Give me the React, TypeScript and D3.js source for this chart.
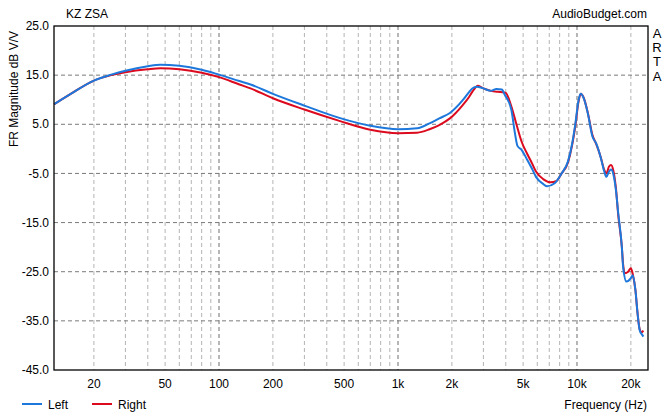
import React from "react";
import * as d3 from "d3";

const freqLeft = [12, 15, 20, 25, 30, 40, 47, 60, 80, 100, 130, 150, 200, 300, 470, 700, 1000, 1280, 1500, 1700, 1950, 2300, 2500, 2600, 2750, 3000, 3300, 3550, 3800, 3950, 4300, 4500, 4650, 4900, 5250, 5600, 5900, 6500, 6800, 7500, 8200, 8900, 9400, 9800, 10200, 10500, 10900, 11500, 12200, 12800, 13600, 14200, 14600, 15100, 15500, 16000, 16500, 17000, 17800, 18100, 18900, 20000, 20500, 21200, 21800, 22400, 23000, 23500];
const dbLeft = [9.1, 11.3, 13.9, 15.1, 15.9, 16.8, 17.1, 16.9, 16.1, 15.1, 13.8, 13.1, 11.2, 8.8, 6.3, 4.7, 4.0, 4.2, 5.2, 6.2, 7.3, 9.9, 11.6, 12.3, 12.65, 12.3, 11.8, 12.2, 12.1, 11.0, 7.9, 3.2, 0.6, -0.2, -2.1, -4.0, -5.7, -7.2, -7.6, -7.0, -5.0, -2.6, 1.1, 5.2, 9.9, 11.2, 10.3, 7.2, 2.5, 1.1, -1.9, -4.6, -5.7, -4.6, -4.2, -5.3, -8.4, -13.1, -19.9, -24.0, -27.0, -26.3, -25.7, -28.7, -33.5, -36.9, -37.7, -38.2];

const freqRight = [12, 15, 20, 25, 30, 40, 47, 60, 80, 100, 130, 150, 200, 300, 470, 700, 1000, 1280, 1500, 1700, 1950, 2300, 2500, 2600, 2800, 3000, 3300, 3600, 3900, 4000, 4300, 4600, 4900, 5250, 5600, 5900, 6500, 7100, 7700, 8200, 8900, 9400, 9800, 10200, 10500, 10900, 11500, 12200, 12800, 13600, 14200, 14600, 15100, 15500, 16000, 16500, 17000, 17800, 18100, 18500, 19300, 20000, 20500, 21200, 21800, 22400, 23000, 23500];
const dbRight = [9.1, 11.3, 13.9, 15.0, 15.6, 16.2, 16.4, 16.2, 15.5, 14.6, 13.1, 12.3, 10.3, 8.0, 5.7, 3.9, 3.2, 3.3, 4.0, 4.85, 6.2, 8.9, 10.6, 11.6, 12.85, 12.3, 11.8, 11.6, 11.5, 11.4, 8.6, 4.85, 1.5, -0.9, -2.9, -4.6, -6.2, -6.8, -6.5, -5.0, -2.8, 0.8, 4.8, 9.6, 11.2, 10.4, 7.3, 2.8, 1.0, -1.8, -4.3, -5.0, -3.6, -3.3, -4.6, -8.0, -13.5, -19.9, -23.5, -25.3, -25.0, -24.3, -25.5, -28.7, -33.5, -36.7, -37.3, -37.0];

const yTicks = [25, 15, 5, -5, -15, -25, -35, -45];
const xTickValues = [20, 50, 100, 200, 500, 1000, 2000, 5000, 10000, 20000];
const xTickLabels = ["20", "50", "100", "200", "500", "1k", "2k", "5k", "10k", "20k"];

const title = "KZ ZSA";
const site = "AudioBudget.com";
const yTitle = "FR Magnitude dB V/V";
const xTitle = "Frequency (Hz)";
const seriesNames = ["Left", "Right"];

const W = 671, H = 420;
const L = 54, R = 648, T = 26, B = 370;
const BLUE = "#1E78DC";
const RED = "#DC0A1E";
const FONT = "'Liberation Sans', Arial, sans-serif";

export default function App() {
  const x = d3.scaleLog().domain([11.97, 24930]).range([L, R]);
  const y = d3.scaleLinear().domain([-45, 25]).range([B, T]);

  const minor: number[] = [];
  const major: number[] = [];
  for (let dec = 10; dec <= 10000; dec *= 10) {
    for (let m = 1; m <= 9; m++) {
      const f = dec * m;
      if (f < 11.97 || f > 24930) continue;
      if (m === 1) major.push(f);
      else minor.push(f);
    }
  }

  const line = d3
    .line<[number, number]>()
    .x((d) => x(d[0]))
    .y((d) => y(d[1]))
    .curve(d3.curveMonotoneX);

  const leftData: [number, number][] = freqLeft.map((f, i) => [f, dbLeft[i]]);
  const rightData: [number, number][] = freqRight.map((f, i) => [f, dbRight[i]]);

  return (
    <svg width={W} height={H} style={{ position: "absolute", left: 0, top: 0, background: "#fff" }} fontFamily={FONT}>
      <rect x={0} y={0} width={W} height={H} fill="#fff" />
      {minor.map((f) => (
        <line key={"mi" + f} x1={x(f)} x2={x(f)} y1={T} y2={B} stroke="#b4b4b4" strokeWidth={1} strokeDasharray="4,3" />
      ))}
      {major.map((f) => (
        <line key={"ma" + f} x1={x(f)} x2={x(f)} y1={T} y2={B} stroke="#6e6e6e" strokeWidth={1} strokeDasharray="4,3" />
      ))}
      {yTicks.slice(1, -1).map((v) => (
        <line key={"h" + v} x1={L} x2={R} y1={y(v)} y2={y(v)} stroke="#7a7a7a" strokeWidth={1} strokeDasharray="4,3" />
      ))}
      <path d={line(rightData) || ""} fill="none" stroke={RED} strokeWidth={2} />
      <path d={line(leftData) || ""} fill="none" stroke={BLUE} strokeWidth={2} />
      <rect x={L} y={T} width={R - L} height={B - T} fill="none" stroke="#000" strokeWidth={1.3} />
      {yTicks.map((v) => (
        <text key={"yt" + v} x={49} y={y(v)} dy="0.35em" textAnchor="end" fontSize={12} fill="#000">
          {v.toFixed(1)}
        </text>
      ))}
      {xTickValues.map((f, i) => (
        <text key={"xt" + f} x={x(f)} y={388} textAnchor="middle" fontSize={12} fill="#000">
          {xTickLabels[i]}
        </text>
      ))}
      <text x={66} y={18} fontSize={12} fill="#000">{title}</text>
      <text x={647} y={18} textAnchor="end" fontSize={12} fill="#000">{site}</text>
      {"ARTA".split("").map((c, i) => (
        <text key={"a" + i} x={657} y={38 + i * 14.2} textAnchor="middle" fontSize={13} fill="#000">{c}</text>
      ))}
      <text transform={`translate(18,89) rotate(-90)`} textAnchor="middle" fontSize={12} fill="#000">{yTitle}</text>
      <line x1={22} x2={42} y1={404} y2={404} stroke={BLUE} strokeWidth={2} />
      <text x={48} y={408.5} fontSize={12} fill="#000">{seriesNames[0]}</text>
      <line x1={92} x2={112} y1={404} y2={404} stroke={RED} strokeWidth={2} />
      <text x={118} y={408.5} fontSize={12} fill="#000">{seriesNames[1]}</text>
      <text x={647} y={408.5} textAnchor="end" fontSize={12} fill="#000">{xTitle}</text>
    </svg>
  );
}
